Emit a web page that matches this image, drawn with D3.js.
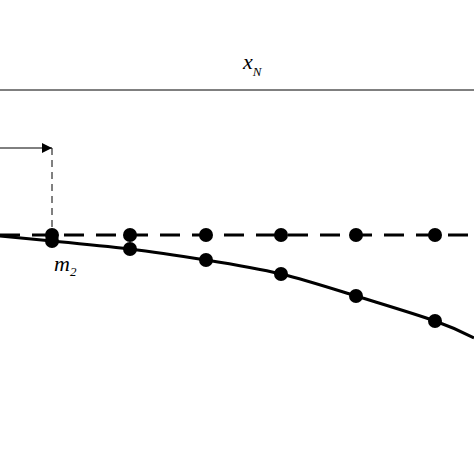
<!DOCTYPE html>
<html><head><meta charset="utf-8">
<script src="https://cdn.jsdelivr.net/npm/d3@7"></script>
<style>body{margin:0;background:#fff}svg{display:block}</style>
</head><body>
<script>
// node positions along the beam (pixel-space units of the cropped figure)
const nodeX = [52, 130, 206, 281, 356, 435];
// deflected curve points (x, y)
const curveX = [0, 52, 130, 206, 281, 356, 435, 474];
const curveY = [236, 241, 249, 260, 274, 296, 321, 338];
const refY = 235;

const W = 474, H = 474;
const x = d3.scaleLinear().domain([0, 474]).range([0, W]);
const y = d3.scaleLinear().domain([0, 474]).range([0, H]);

const svg = d3.select("body").append("svg").attr("width", W).attr("height", H);
svg.append("defs").append("marker").attr("id", "ah").attr("viewBox", "0 0 10 10")
  .attr("refX", 10).attr("refY", 5).attr("markerWidth", 14).attr("markerHeight", 10)
  .attr("markerUnits", "userSpaceOnUse").attr("orient", "auto")
  .append("path").attr("d", "M0,0L10,5L0,10Z").attr("fill", "#000");

// top dimension line
svg.append("line").attr("x1", 0).attr("x2", W).attr("y1", y(90)).attr("y2", y(90))
  .attr("stroke", "#000").attr("stroke-width", 1);
const t = svg.append("text").attr("x", x(243)).attr("y", y(69))
  .attr("font-family", "Liberation Serif").attr("font-style", "italic").attr("font-size", 22);
t.append("tspan").text("x");
t.append("tspan").attr("font-size", 13).attr("dy", 7).text("N");

// arrow to node 2
svg.append("line").attr("x1", 0).attr("x2", x(nodeX[0])).attr("y1", y(148)).attr("y2", y(148))
  .attr("stroke", "#000").attr("stroke-width", 1).attr("marker-end", "url(#ah)");
svg.append("line").attr("x1", x(nodeX[0])).attr("x2", x(nodeX[0])).attr("y1", y(148)).attr("y2", y(refY))
  .attr("stroke", "#000").attr("stroke-width", 1).attr("stroke-dasharray", "7,5");

// reference dashed line
svg.append("line").attr("x1", 0).attr("x2", W).attr("y1", y(refY)).attr("y2", y(refY))
  .attr("stroke", "#000").attr("stroke-width", 3).attr("stroke-dasharray", "20,12");

// deflected curve
const line = d3.line().x(d => x(d[0])).y(d => y(d[1])).curve(d3.curveNatural);
svg.append("path").datum(curveX.map((v, i) => [v, curveY[i]])).attr("d", line)
  .attr("fill", "none").attr("stroke", "#000").attr("stroke-width", 3);

// nodes
svg.selectAll(".n0").data(nodeX).join("circle").attr("cx", d => x(d)).attr("cy", y(refY))
  .attr("r", 7).attr("fill", "#000");
svg.selectAll(".n1").data(nodeX).join("circle").attr("cx", d => x(d))
  .attr("cy", (d, i) => y(curveY[i + 1])).attr("r", 7).attr("fill", "#000");

const m = svg.append("text").attr("x", x(54)).attr("y", y(271))
  .attr("font-family", "Liberation Serif").attr("font-style", "italic").attr("font-size", 22);
m.append("tspan").text("m");
m.append("tspan").attr("font-size", 13).attr("dy", 5).text("2");
</script>
</body></html>
